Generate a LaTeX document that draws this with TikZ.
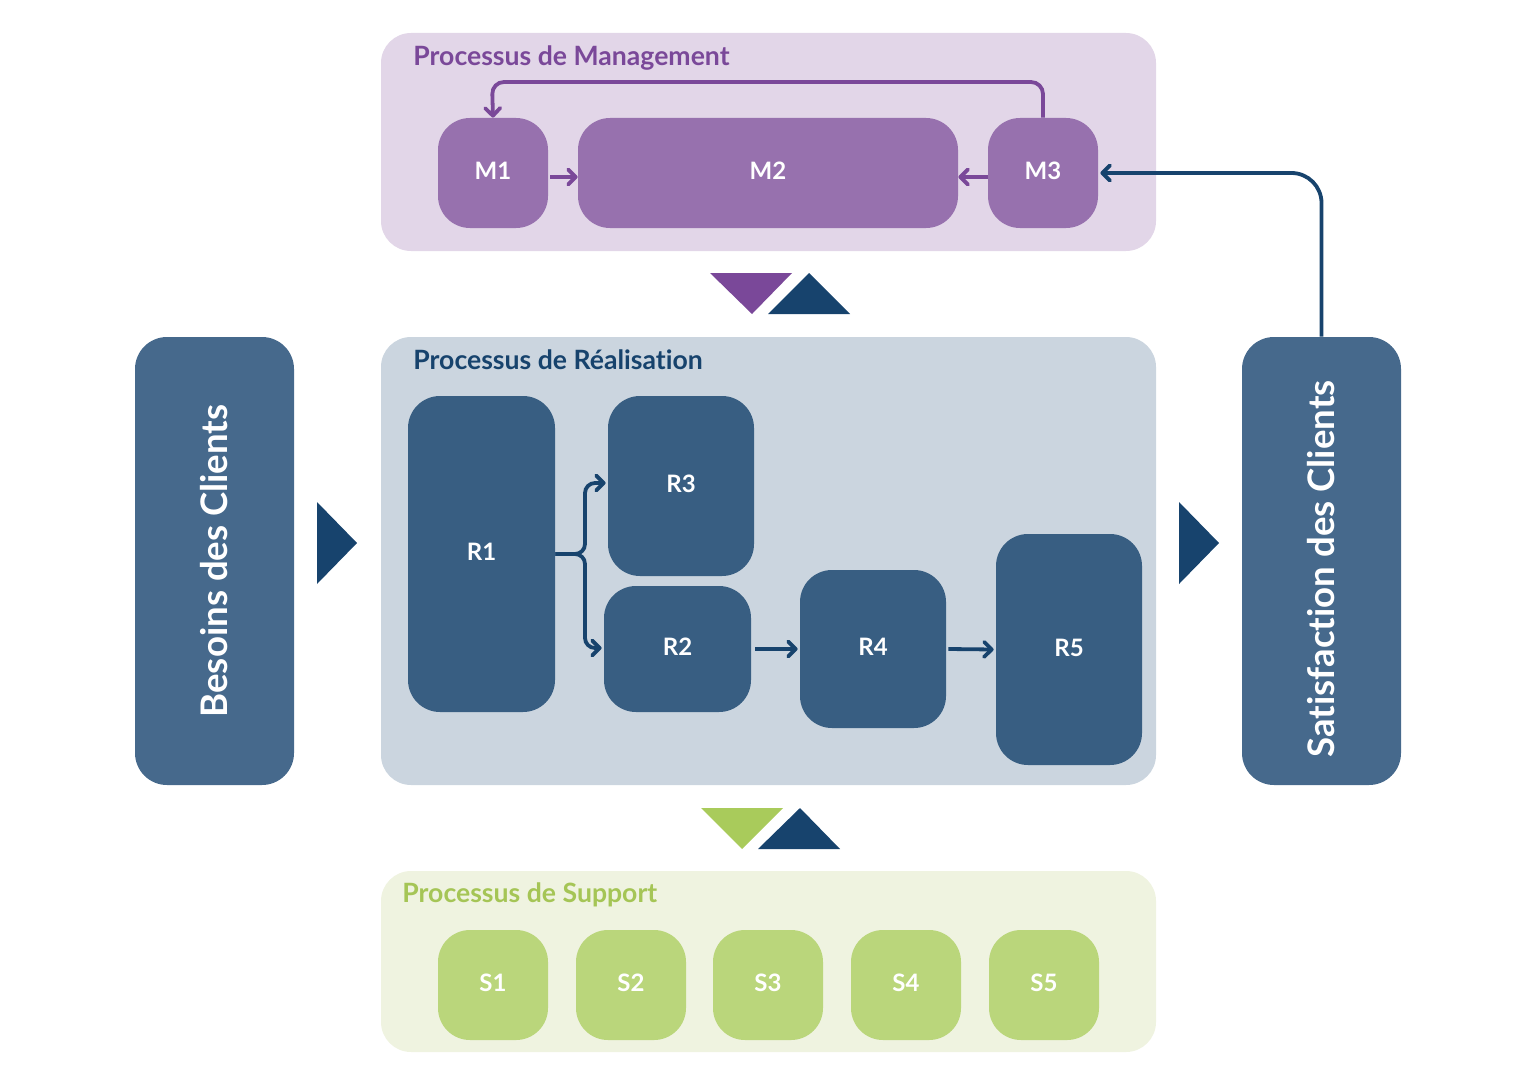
\documentclass[tikz,border=0pt]{standalone}
\usepackage{fontspec}
\setmainfont[Ligatures=NoCommon]{Lato}
\usetikzlibrary{arrows.meta}
\definecolor{mgbg}{HTML}{E2D6E8}
\definecolor{mgbox}{HTML}{9771AE}
\definecolor{mgdark}{HTML}{7A4899}
\definecolor{rebg}{HTML}{CBD5DF}
\definecolor{rebox}{HTML}{385E82}
\definecolor{sidebox}{HTML}{46698C}
\definecolor{navy}{HTML}{17436D}
\definecolor{subg}{HTML}{EFF3E0}
\definecolor{subox}{HTML}{BAD67B}
\definecolor{sugreen}{HTML}{A9CB5B}
\definecolor{sutext}{HTML}{A5C556}
\tikzset{
  panel/.style={rounded corners=15pt, inner sep=0pt, minimum width=387.5pt},
  lbl/.style={text=white, font=\bfseries\fontsize{12}{14}\selectfont, inner sep=0pt, text depth=2pt},
  mbox/.style={lbl, fill=mgbox, rounded corners=16pt},
  rbox/.style={lbl, fill=rebox, rounded corners=16pt},
  sbox/.style={lbl, fill=subox, rounded corners=16pt, minimum width=55pt, minimum height=55pt},
  sidebx/.style={fill=sidebox, rounded corners=16pt, text=white, inner sep=0pt, minimum width=79.5pt, minimum height=224pt},
  sidetxt/.style={text=white, font=\bfseries\fontsize{18.3}{21}\selectfont, rotate=90},
  ttl/.style={anchor=base west, font=\bfseries\fontsize{13.3}{15}\selectfont, inner sep=0pt},
  parr/.style={draw=mgdark, line width=1.9pt, -{Straight Barb[length=3.8pt,width=7.5pt,round]}},
  narr/.style={draw=navy, line width=1.9pt, -{Straight Barb[length=3.8pt,width=7.5pt,round]}},
}
\begin{document}
\begin{tikzpicture}[x=0.5pt,y=-0.5pt]
\useasboundingbox (0,0) rectangle (1536,1086);
% panels
\node[panel, fill=mgbg, minimum height=109pt] (mg) at (768.5,142) {};
\node[panel, fill=rebg, minimum height=224pt] (re) at (768.5,561) {};
\node[panel, fill=subg, minimum height=90.5pt] (su) at (768.5,961.5) {};
\node[ttl, text=mgdark] (mgt) at (413,66) {Processus de Management};
\node[ttl, text=navy] (ret) at (413,369) {Processus de Réalisation};
\node[ttl, text=sutext] (sut) at (402,902) {Processus de Support};
% management
\node[mbox, minimum width=55pt, minimum height=55pt] (M1) at (493,173) {M1};
\node[mbox, minimum width=190pt, minimum height=55pt] (M2) at (768,173) {M2};
\node[mbox, minimum width=55pt, minimum height=55pt] (M3) at (1043,173) {M3};
\draw[parr] ([yshift=-2pt,xshift=1pt]M1.east) -- ([yshift=-2pt]M2.west);
\draw[parr] ([yshift=-2pt]M3.west) -- ([yshift=-2pt]M2.east);
\draw[parr, rounded corners=6pt] (M3.north) -- (1043,82) -- (492,82) -- (M1.north);
% realisation
\node[rbox, minimum width=73.5pt, minimum height=158pt] (R1) at (481.5,554) {R1};
\node[rbox, minimum width=73pt, minimum height=90pt] (R3) at (681,486) {R3};
\node[rbox, minimum width=73.5pt, minimum height=63pt] (R2) at (677.5,649) {R2};
\node[rbox, minimum width=73pt, minimum height=79pt] (R4) at (873,649) {R4};
\node[rbox, minimum width=73pt, minimum height=115.5pt] (R5) at (1069,649.5) {R5};
\draw[narr, rounded corners=5pt] (R1.east) -- (585,554) -- (585,483) -- ([yshift=1.5pt,xshift=-1pt]R3.west);
\draw[narr, rounded corners=5pt] (R1.east) -- (585,554) -- (585,648) -- ([xshift=-1pt,yshift=0.5pt]R2.west);
\draw[narr] ([xshift=2pt]R2.east) -- ([xshift=-1pt]R4.west);
\draw[narr] ([xshift=1pt]R4.east) -- ([xshift=-1pt]R5.west);
% support
\foreach \i/\x in {1/493,2/631,3/768,4/906,5/1044}
  \node[sbox] (S\i) at (\x,985) {S\i};
% sides
\node[sidebx] (Bes) at (214.5,561) {};
\node[sidetxt] (Best) at (Bes.center) {Besoins des Clients};
\node[sidebx] (Sat) at (1321.5,561) {};
\node[sidetxt] (Satt) at ([yshift=-4pt]Sat.center) {Satisfaction des Clients};
\draw[narr, rounded corners=15pt] (Sat.north) -- (1321.5,173) -- ([xshift=1pt]M3.east);
% triangles
\fill[mgdark] (710,273) -- (792,273) -- (752,314) -- cycle;
\fill[navy] (768,314) -- (850,314) -- (809,273) -- cycle;
\fill[sugreen] (701,808) -- (783,808) -- (742,849) -- cycle;
\fill[navy] (758,849) -- (840,849) -- (800,808) -- cycle;
\fill[navy] (317,502) -- (357,543) -- (317,584) -- cycle;
\fill[navy] (1179,502) -- (1219,543) -- (1179,584) -- cycle;
\end{tikzpicture}
\end{document}
